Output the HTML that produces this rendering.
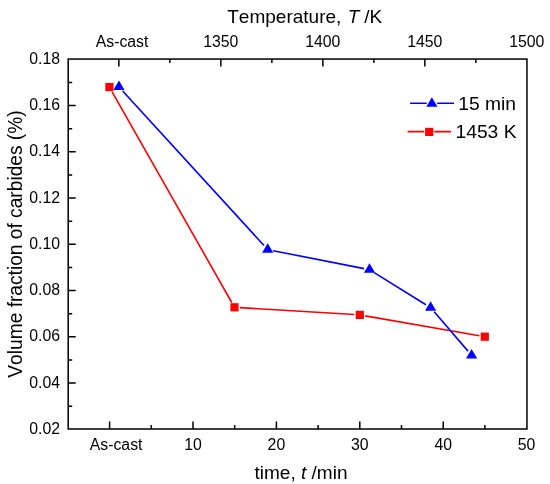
<!DOCTYPE html>
<html><head><meta charset="utf-8"><title>Volume fraction of carbides</title>
<style>html,body{margin:0;padding:0;background:#fff;}body{width:550px;height:484px;overflow:hidden;}svg{display:block;}text{font-family:"Liberation Sans",Arial,sans-serif;fill:#000;font-kerning:none;}</style>
</head><body>
<svg width="550" height="484" viewBox="0 0 550 484">
<rect x="0" y="0" width="550" height="484" fill="#fff"/>
<rect x="68.2" y="59.05" width="458.75" height="369.95" fill="none" stroke="#000" stroke-width="1.5"/>
<path d="M118.85 59.05 v7.5 M220.85 59.05 v7.5 M322.85 59.05 v7.5 M424.85 59.05 v7.5 M169.85 59.05 v4 M271.85 59.05 v4 M373.85 59.05 v4 M475.85 59.05 v4 M109.60 429.0 v-7.5 M193.00 429.0 v-7.5 M276.40 429.0 v-7.5 M359.80 429.0 v-7.5 M443.20 429.0 v-7.5 M151.30 429.0 v-4 M234.70 429.0 v-4 M318.10 429.0 v-4 M401.50 429.0 v-4 M484.90 429.0 v-4 M68.2 406.18 h4 M68.2 383.06 h7.5 M68.2 359.93 h4 M68.2 336.81 h7.5 M68.2 313.69 h4 M68.2 290.57 h7.5 M68.2 267.45 h4 M68.2 244.32 h7.5 M68.2 221.20 h4 M68.2 198.08 h7.5 M68.2 174.96 h4 M68.2 151.84 h7.5 M68.2 128.72 h4 M68.2 105.59 h7.5 M68.2 82.47 h4" fill="none" stroke="#000" stroke-width="1.5"/>
<g font-size="15.8" text-anchor="middle">
<text x="122.05" y="47.4">As-cast</text>
<text x="220.85" y="47.4">1350</text>
<text x="322.85" y="47.4">1400</text>
<text x="424.85" y="47.4">1450</text>
<text x="526.85" y="47.4">1500</text>
<text x="116.10" y="449.5">As-cast</text>
<text x="193.00" y="449.5">10</text>
<text x="276.40" y="449.5">20</text>
<text x="359.80" y="449.5">30</text>
<text x="443.20" y="449.5">40</text>
<text x="526.60" y="449.5">50</text>
</g>
<g font-size="15.8" text-anchor="end">
<text x="60" y="433.90">0.02</text>
<text x="60" y="387.66">0.04</text>
<text x="60" y="341.41">0.06</text>
<text x="60" y="295.17">0.08</text>
<text x="60" y="248.92">0.10</text>
<text x="60" y="202.68">0.12</text>
<text x="60" y="156.44">0.14</text>
<text x="60" y="110.19">0.16</text>
<text x="60" y="63.95">0.18</text>
</g>
<text x="304.65" y="22.75" font-size="19.05" text-anchor="middle">Temperature, <tspan font-style="italic" dx="1.1">T</tspan><tspan dx="-0.6"> /K</tspan></text>
<text x="301" y="478.7" font-size="19.05" text-anchor="middle">time, <tspan font-style="italic">t</tspan> /min</text>
<text transform="translate(22.0 244.0) rotate(-90) scale(1 1.025)" font-size="19.17" text-anchor="middle">Volume fraction of carbides (%)</text>
<path d="M112.12 91.88 L231.78 302.52 M239.99 307.63 L354.31 314.57 M365.22 315.84 L479.38 335.76" fill="none" stroke="#ff0000" stroke-width="1.6"/>
<path d="M122.66 90.96 L263.99 245.54 M273.10 250.67 L364.10 268.63 M374.17 272.60 L425.93 304.70 M434.19 311.77 L468.01 351.13" fill="none" stroke="#0000ff" stroke-width="1.6"/>
<rect x="105.30" y="83.00" width="8.2" height="8.2" fill="#ff0000"/>
<rect x="230.40" y="303.20" width="8.2" height="8.2" fill="#ff0000"/>
<rect x="355.70" y="310.80" width="8.2" height="8.2" fill="#ff0000"/>
<rect x="480.70" y="332.60" width="8.2" height="8.2" fill="#ff0000"/>
<path d="M118.95 80.50 L124.55 90.00 L113.35 90.00 Z" fill="#0000ff"/>
<path d="M267.70 243.20 L273.30 252.70 L262.10 252.70 Z" fill="#0000ff"/>
<path d="M369.50 263.30 L375.10 272.80 L363.90 272.80 Z" fill="#0000ff"/>
<path d="M430.60 301.20 L436.20 310.70 L425.00 310.70 Z" fill="#0000ff"/>
<path d="M471.60 348.90 L477.20 358.40 L466.00 358.40 Z" fill="#0000ff"/>
<path d="M410.1 103.25 H426.7 M437.2 103.25 H454.1" stroke="#0000ff" stroke-width="1.6" fill="none"/>
<path d="M431.90 97.30 L437.50 106.80 L426.30 106.80 Z" fill="#0000ff"/>
<path d="M407.6 131.6 H424.2 M434.2 131.6 H451" stroke="#ff0000" stroke-width="1.6" fill="none"/>
<rect x="425.10" y="127.80" width="8.2" height="8.2" fill="#ff0000"/>
<text x="516" y="109.5" font-size="19.25" text-anchor="end">15 min</text>
<text x="516.5" y="138" font-size="19.25" text-anchor="end">1453 K</text>
</svg>
</body></html>
